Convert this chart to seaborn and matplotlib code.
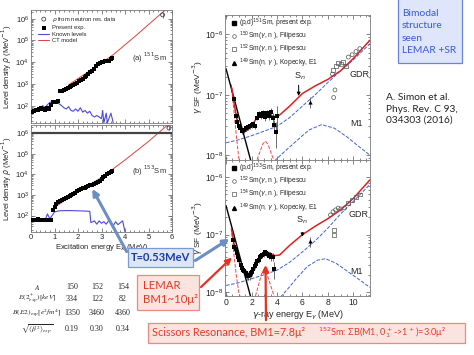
import matplotlib
matplotlib.use("Agg")
import matplotlib.pyplot as plt
import seaborn as sns
from matplotlib.lines import Line2D
from matplotlib.patches import Rectangle

# ---------------- level density data (left panels) ----------------
ex_151 = [0.05, 0.12, 0.2, 0.28, 0.36, 0.44, 0.52, 0.6, 0.68, 0.76, 0.84, 0.92, 1.0, 1.08, 1.16,
          1.24, 1.32, 1.4, 1.48, 1.56, 1.64, 1.72, 1.8, 1.88, 1.96, 2.04, 2.12, 2.2, 2.28, 2.36,
          2.44, 2.52, 2.6, 2.68, 2.76, 2.84, 2.92, 3.0, 3.08, 3.16, 3.24, 3.32, 3.4, 3.46]
rho_151 = [50, 55, 60, 62, 70, 75, 70, 65, 80, 70, 110, 140, 150, 150, 160,
           450, 480, 520, 560, 620, 700, 780, 900, 1000, 1150, 1300, 1500, 1700, 2000, 2400,
           2900, 3400, 4000, 5000, 6500, 8500, 9500, 1.0e4, 1.05e4, 1.1e4, 1.15e4, 1.1e4, 1.4e4, 1.6e4]
ex_153 = ex_151
rho_153 = [60, 62, 60, 65, 60, 62, 58, 60, 62, 60, 60, 180, 250, 350, 450,
           500, 560, 640, 720, 800, 900, 1000, 1150, 1300, 1500, 1700, 1900, 2100, 2300, 2500,
           2700, 2900, 3000, 3300, 3700, 4200, 5000, 6000, 7200, 8500, 1.0e4, 1.2e4, 1.35e4, 1.5e4]

known_ex_151 = [0.0, 0.03, 0.1, 0.2, 0.3, 0.4, 0.5, 0.6, 0.7, 0.8, 0.9, 1.0, 1.1, 1.2, 1.3, 1.4, 1.5,
                1.6, 1.7, 1.8, 1.9, 2.0, 2.1, 2.2, 2.3, 2.4, 2.5, 2.6, 2.7, 2.8, 2.9, 3.0, 3.05,
                3.1, 3.2, 3.25, 3.4, 3.5]
known_rho_151 = [16, 60, 50, 55, 70, 75, 100, 80, 110, 140, 150, 150, 140, 120, 100, 80, 70,
                 90, 60, 55, 70, 55, 80, 50, 60, 45, 55, 35, 30, 35, 30, 25, 60,
                 16, 45, 16, 45, 16]
known_ex_153 = [0.0, 0.02, 0.1, 0.2, 0.3, 0.4, 0.5, 0.6, 0.7, 0.8, 0.9, 1.0, 1.2, 1.5, 2.0, 2.3,
                2.5, 2.55, 2.7, 2.8, 2.9, 3.0, 3.1, 3.2, 3.3, 3.5, 3.6, 3.7, 3.9, 4.0]
known_rho_153 = [16, 60, 55, 60, 65, 55, 70, 60, 120, 70, 100, 150, 170, 175, 170, 165,
                 160, 45, 55, 38, 55, 42, 50, 38, 55, 32, 50, 36, 55, 16]

ct_ex_151 = [1.6, 2.5, 3.5, 4.5, 5.5, 6.3]
ct_rho_151 = [900, 4.0e3, 2.2e4, 1.8e5, 1.6e6, 8.0e6]
ct_ex_153 = [1.0, 2.0, 3.0, 4.0, 5.0, 6.2]
ct_rho_153 = [250, 1.5e3, 7.0e3, 5.0e4, 4.0e5, 6.0e6]

nres_ex = [5.6, 5.87]
nres_rho = [1.5e6, 1.8e6]

# ---------------- gamma strength data (right panels) ----------------
eg_151 = [0.65, 0.8, 0.9, 1.0, 1.1, 1.25, 1.4, 1.55, 1.7, 1.85, 2.0, 2.15, 2.3, 2.45, 2.6,
          2.75, 2.9, 3.05, 3.2, 3.35, 3.5, 3.65, 3.8, 3.9, 4.0]
sf_151 = [8.5e-8, 4.5e-8, 3.5e-8, 3.0e-8, 2.8e-8, 2.5e-8, 2.6e-8, 2.8e-8, 2.9e-8, 3.0e-8, 3.1e-8,
          3.3e-8, 3.0e-8, 4.2e-8, 4.8e-8, 4.5e-8, 5.0e-8, 4.3e-8, 4.9e-8, 4.4e-8, 5.2e-8, 4.2e-8,
          3.2e-8, 2.4e-8, 4.5e-8]
err_151 = [1.0e-8, 5e-9, 4e-9, 3e-9, 3e-9, 3e-9, 3e-9, 3e-9, 3e-9, 3e-9, 3e-9, 3e-9, 3e-9, 4e-9,
           5e-9, 5e-9, 6e-9, 6e-9, 6e-9, 6e-9, 8e-9, 8e-9, 6e-9, 1.1e-8, 2.0e-8]

eg_153 = [0.55, 0.65, 0.75, 0.85, 0.95, 1.05, 1.15, 1.25, 1.35, 1.45, 1.55, 1.65, 1.75, 1.85,
          1.95, 2.05, 2.15, 2.25, 2.35, 2.45, 2.55, 2.65, 2.75, 2.85, 2.95, 3.05, 3.15, 3.25,
          3.35, 3.45, 3.55, 3.65, 3.8]
sf_153 = [8e-8, 6e-8, 5.5e-8, 4.8e-8, 4e-8, 3.6e-8, 3.0e-8, 2.6e-8, 2.4e-8, 2.3e-8, 2.1e-8,
          2.0e-8, 1.9e-8, 1.95e-8, 2.1e-8, 2.2e-8, 2.5e-8, 2.8e-8, 3.1e-8, 3.4e-8, 3.6e-8,
          4.0e-8, 4.3e-8, 4.4e-8, 4.6e-8, 4.9e-8, 4.7e-8, 4.5e-8, 4.3e-8, 4.4e-8, 4.0e-8,
          4.1e-8, 2.5e-8]
err_153 = [1.2e-8, 8e-9, 6e-9, 5e-9, 4e-9, 4e-9, 3e-9, 3e-9, 3e-9, 3e-9, 3e-9, 3e-9, 3e-9, 3e-9,
           3e-9, 3e-9, 3e-9, 3e-9, 3e-9, 4e-9, 4e-9, 4e-9, 4e-9, 5e-9, 5e-9, 5e-9, 5e-9, 5e-9,
           5e-9, 5e-9, 5e-9, 6e-9, 8e-9]

kop_eg = [6.6]
kop_top = [7.6e-8]
kop_bot = [7.6e-8]
kop_err = [1.5e-8]

fil_a_eg_top = [8.35, 8.45, 8.55, 9.6, 9.9, 10.2, 10.5]
fil_a_sf_top = [2.2e-7, 9e-8, 1.2e-7, 4.2e-7, 4.6e-7, 5.2e-7, 5.8e-7]
fil_b_eg_top = [8.4, 8.6, 8.8, 9.0, 9.2, 9.4]
fil_b_sf_top = [2.6e-7, 3.0e-7, 3.3e-7, 3.2e-7, 3.5e-7, 3.0e-7]
fil_a_eg_bot = [8.2, 8.4, 8.6, 8.8, 9.0, 9.3]
fil_a_sf_bot = [2.2e-7, 2.5e-7, 2.7e-7, 2.9e-7, 2.8e-7, 2.9e-7]
fil_b_eg_bot = [8.45, 8.5, 9.6, 9.9, 10.2, 10.5]
fil_b_sf_bot = [1.0e-7, 1.2e-7, 3.5e-7, 4.0e-7, 4.5e-7, 5.0e-7]

# model curves
tot_eg_top = [0.45, 0.6, 0.8, 1.0, 1.2, 1.4, 1.7, 2.0, 2.3, 2.6, 2.9, 3.2, 3.5, 3.8, 4.2, 5.0,
              6.0, 7.0, 8.0, 9.0, 10.0, 11.3]
tot_sf_top = [1.3e-7, 8e-8, 4.5e-8, 3e-8, 2.5e-8, 2.4e-8, 2.6e-8, 3e-8, 3.8e-8, 4.6e-8, 4.8e-8,
              4.7e-8, 4.5e-8, 4.4e-8, 4.6e-8, 6.5e-8, 1.05e-7, 1.4e-7, 1.8e-7, 2.5e-7, 4e-7, 8e-7]
tot_eg_bot = [0.45, 0.6, 0.8, 1.0, 1.2, 1.4, 1.6, 1.8, 2.0, 2.3, 2.6, 2.9, 3.2, 3.5, 3.8, 4.2,
              5.0, 6.0, 7.0, 8.0, 9.0, 10.0, 11.3]
tot_sf_bot = [1.2e-7, 7.5e-8, 5e-8, 3.5e-8, 2.7e-8, 2.2e-8, 2.0e-8, 2.0e-8, 2.2e-8, 3e-8, 4e-8,
              4.8e-8, 5e-8, 4.7e-8, 4.3e-8, 4.4e-8, 6.5e-8, 1.0e-7, 1.4e-7, 1.9e-7, 2.7e-7,
              4.3e-7, 9e-7]
gdr_eg = [0, 1, 2, 3, 4, 5, 6, 7, 8, 9, 10, 11.3]
gdr_top = [1.6e-8, 1.8e-8, 2.1e-8, 2.5e-8, 3.0e-8, 4.2e-8, 6.5e-8, 1.0e-7, 1.6e-7, 2.5e-7, 3.8e-7, 7e-7]
gdr_bot = [1.3e-8, 1.45e-8, 1.7e-8, 2.0e-8, 2.4e-8, 3.3e-8, 5e-8, 7.8e-8, 1.3e-7, 2.3e-7, 3.8e-7, 7.5e-7]
m1_eg_top = [3.5, 4.5, 5.5, 6.5, 7.5, 8.5, 9.5, 10.5, 11.3]
m1_top = [7e-9, 1.1e-8, 1.7e-8, 2.6e-8, 3.2e-8, 2.8e-8, 2.0e-8, 1.35e-8, 1e-8]
m1_eg_bot = [4.0, 4.8, 5.6, 6.4, 7.2, 7.8, 8.6, 9.4, 10.2, 11.3]
m1_bot = [7e-9, 1.1e-8, 1.8e-8, 2.8e-8, 3.6e-8, 3.8e-8, 3.2e-8, 2.4e-8, 1.8e-8, 1.2e-8]
sr_eg_top = [2.3, 2.6, 2.9, 3.1, 3.3, 3.6, 3.9]
sr_top = [7e-9, 1.05e-8, 1.55e-8, 1.7e-8, 1.5e-8, 1.0e-8, 7e-9]
sr_eg_bot = [2.2, 2.5, 2.8, 3.0, 3.2, 3.5, 3.9]
sr_bot = [7e-9, 1.2e-8, 2.1e-8, 2.5e-8, 2.1e-8, 1.3e-8, 7e-9]
up_eg = [0.4, 0.6, 0.8, 1.0, 1.2]
up_top = [1.5e-7, 6e-8, 2.2e-8, 9e-9, 6e-9]
up_bot = [1.3e-7, 5e-8, 2e-8, 1e-8, 7e-9]
exp_eg = [0.0, 1.95]
exp_top = [2.7e-7, 8.0e-9]
exp_bot = [3.2e-7, 8.0e-9]

# table
tab_rows = ["$A$", "$E(2^+_{exp})[keV]$", "$B(E2)_{exp}[e^2fm^4]$", r"$\sqrt{\langle\beta^2\rangle_{exp}}$"]
tab_vals = [["150", "152", "154"], ["334", "122", "82"], ["1350", "3460", "4360"], ["0.19", "0.30", "0.34"]]

W, H = 474, 355
sns.set_theme(style="ticks")
plt.rcParams["font.family"] = ["Liberation Sans", "DejaVu Sans"]
plt.rcParams["mathtext.fontset"] = "dejavusans"

fig = plt.figure(figsize=(W / 100, H / 100), dpi=100)
fig.patch.set_facecolor("white")


def box(x0, y0, x1, y1):
    return [x0 / W, 1 - y1 / H, (x1 - x0) / W, (y1 - y0) / H]


def style_ax(ax, fs):
    ax.tick_params(which="both", direction="in", top=True, right=True, labelsize=fs, pad=1.5,
                   width=0.5, color="#555555")
    ax.tick_params(which="major", length=3)
    ax.tick_params(which="minor", length=1.5)
    for s in ax.spines.values():
        s.set_linewidth(0.6)
        s.set_color("#777777")


# ---- left panels
ax_a = fig.add_axes(box(31, 10, 172, 123))
ax_b = fig.add_axes(box(31, 125, 172, 232))
for ax, ex, rho, kex, krho, cex, crho, lab, k in [
        (ax_a, ex_151, rho_151, known_ex_151, known_rho_151, ct_ex_151, ct_rho_151, "(a) $^{151}$Sm", 0),
        (ax_b, ex_153, rho_153, known_ex_153, known_rho_153, ct_ex_153, ct_rho_153, "(b) $^{153}$Sm", 1)]:
    ax.set_yscale("log")
    sns.lineplot(x=kex, y=krho, ax=ax, color="#4a4adf", lw=0.8, estimator=None, sort=False,
                 label="Known levels")
    sns.lineplot(x=cex, y=crho, ax=ax, color="#e04040", lw=0.7, estimator=None, label="CT model")
    sns.scatterplot(x=ex, y=rho, ax=ax, marker="s", s=5, color="black", linewidth=0, zorder=3,
                    label="Present exp.")
    sns.scatterplot(x=[nres_ex[k]], y=[nres_rho[k]], ax=ax, marker="o", s=8, facecolors="none",
                    edgecolor="#444444", linewidth=0.6, zorder=3, label=r"$\rho$ from neutron res. data")
    ax.errorbar([nres_ex[k]], [nres_rho[k]], yerr=[[0.4e6], [0.4e6]], fmt="none", ecolor="#444444",
                elinewidth=0.5)
    ax.set_xlim(0, 6)
    ax.set_ylim(10 ** 1.2, 10 ** 6.4)
    ax.set_xticks(range(7))
    ax.minorticks_on()
    ax.set_ylabel(r"Level density $\rho$ (MeV$^{-1}$)", fontsize=5.5, labelpad=1)
    ax.text(4.3, 1.1e4, lab, fontsize=5.5, color="#333333")
    style_ax(ax, 5.5)
    ax.legend_.remove()

h, l = ax_a.get_legend_handles_labels()
order = [3, 2, 0, 1]
ax_a.legend([h[i] for i in order], [l[i] for i in order], loc="upper left", bbox_to_anchor=(0.02, 1.0),
            fontsize=4.2, frameon=False, handlelength=1.8, labelspacing=0.25, borderpad=0.3,
            handletextpad=0.6)
ax_a.tick_params(labelbottom=False)
ax_b.axhline(1e6, color="#444444", lw=1.6)
ax_b.set_xlabel("Excitation energy E$_x$ (MeV)", fontsize=5.5, labelpad=1)

# ---- right panels
ax_c = fig.add_axes(box(225, 15, 370, 160))
ax_d = fig.add_axes(box(225, 160, 370, 296))
panels = [
    (ax_c, eg_151, sf_151, err_151, tot_eg_top, tot_sf_top, gdr_top, m1_eg_top, m1_top, sr_eg_top,
     sr_top, up_top, exp_top, kop_top, fil_a_eg_top, fil_a_sf_top, fil_b_eg_top, fil_b_sf_top,
     ["(p,d)$^{151}$Sm, present exp.", "$^{150}$Sm($\\gamma$, n ), Filipescu",
      "$^{152}$Sm($\\gamma$, n ), Filipescu", "$^{149}$Sm(n, $\\gamma$ ), Kopecky, E1"],
     (10 ** -8.08, 10 ** -5.68), 5.7, (5.3, 2.05e-7), (1.6e-7, 8.6e-8), (9.7, 2.2e-7), (9.75, 3.4e-8)),
    (ax_d, eg_153, sf_153, err_153, tot_eg_bot, tot_sf_bot, gdr_bot, m1_eg_bot, m1_bot, sr_eg_bot,
     sr_bot, up_bot, exp_bot, kop_bot, fil_a_eg_bot, fil_a_sf_bot, fil_b_eg_bot, fil_b_sf_bot,
     ["(p,d)$^{153}$Sm, present exp.", "$^{152}$Sm($\\gamma$, n ), Filipescu",
      "$^{154}$Sm($\\gamma$, n ), Filipescu", "$^{149}$Sm(n, $\\gamma$ ), Kopecky, E1"],
     (10 ** -8.07, 10 ** -5.7), 6.0, (5.5, 1.75e-7), (1.22e-7, 8.2e-8), (9.6, 2.25e-7), (9.75, 2.3e-8)),
]
for (ax, eg, sf, er, teg, tsf, gdr, m1e, m1, sre, sr, up, expo, kop, fae, fas, fbe, fbs, labs,
     ylim, sn_x, sn_txt, sn_arr, gdr_txt, m1_txt) in panels:
    ax.set_yscale("log")
    sns.lineplot(x=gdr_eg, y=gdr, ax=ax, color="#4060d8", lw=0.7, ls="--", estimator=None)
    sns.lineplot(x=m1e, y=m1, ax=ax, color="#4060d8", lw=0.7, ls="--", estimator=None)
    sns.lineplot(x=sre, y=sr, ax=ax, color="#f04848", lw=0.7, ls="--", estimator=None)
    sns.lineplot(x=up_eg, y=up, ax=ax, color="#f04848", lw=0.7, ls="--", estimator=None)
    sns.lineplot(x=exp_eg, y=expo, ax=ax, color="black", lw=1.0, estimator=None)
    sns.lineplot(x=teg, y=tsf, ax=ax, color="#e02020", lw=1.1, estimator=None)
    ax.errorbar(eg, sf, yerr=er, fmt="none", ecolor="#333333", elinewidth=0.5)
    sns.scatterplot(x=eg, y=sf, ax=ax, marker="s", s=5, color="black", linewidth=0, zorder=3)
    ax.errorbar(kop_eg, kop, yerr=kop_err, fmt="none", ecolor="#333333", elinewidth=0.5)
    sns.scatterplot(x=kop_eg, y=kop, ax=ax, marker="^", s=9, color="black", linewidth=0, zorder=3)
    sns.scatterplot(x=fae, y=fas, ax=ax, marker="o", s=8, facecolors="none", edgecolor="#555555",
                    linewidth=0.5, zorder=3)
    sns.scatterplot(x=fbe, y=fbs, ax=ax, marker="s", s=8, facecolors="none", edgecolor="#555555",
                    linewidth=0.5, zorder=3)
    ax.set_xlim(-0.08, 11.3)
    ax.set_ylim(*ylim)
    ax.set_xticks([0, 2, 4, 6, 8, 10])
    ax.minorticks_on()
    ax.set_ylabel(r"$\gamma$ SF (MeV$^{-3}$)", fontsize=6, labelpad=0)
    style_ax(ax, 6.2)
    handles = [Line2D([], [], marker="s", ls="none", color="black", ms=2.2),
               Line2D([], [], marker="o", ls="none", mfc="none", mec="#555555", ms=2.6, mew=0.5),
               Line2D([], [], marker="s", ls="none", mfc="none", mec="#555555", ms=2.6, mew=0.5),
               Line2D([], [], marker="^", ls="none", color="black", ms=2.8)]
    ax.legend(handles, labs, loc="upper left", bbox_to_anchor=(0.04, 1.0), fontsize=4.8,
              frameon=False, handlelength=0.7, labelspacing=0.0, borderpad=0.05, handletextpad=0.4,
              borderaxespad=0.15)
    ax.text(sn_txt[0], sn_txt[1], "S$_n$", fontsize=6.5, va="center")
    ax.annotate("", xy=(sn_x, sn_arr[1]), xytext=(sn_x, sn_arr[0]),
                arrowprops=dict(arrowstyle="-|>", color="black", lw=0.7, mutation_scale=5))
    ax.text(gdr_txt[0], gdr_txt[1], "GDR", fontsize=6.5, va="center")
    ax.text(m1_txt[0], m1_txt[1], "M1", fontsize=6.5, va="center")

ax_c.tick_params(labelbottom=False)
ax_d.set_xlabel(r"$\gamma$-ray energy E$_{\gamma}$ (MeV)", fontsize=6.5, labelpad=1)

# ---- slide overlay (boxes, notes, table, arrows)
ov = fig.add_axes([0, 0, 1, 1])
ov.set_xlim(0, W)
ov.set_ylim(H, 0)
ov.axis("off")
slide = ["Lato", "DejaVu Sans"]

ov.add_patch(Rectangle((398, -2), 64, 65, fc="#dfe5fa", ec="#6a84d8", lw=0.9))
ov.text(402, 32, "Bimodal\nstructure\nseen\nLEMAR +SR", color="#3b5bd6", fontsize=7.4, va="center",
        ha="left", linespacing=1.45, family=slide)
ov.text(386, 109, "A. Simon et al.\nPhys. Rev. C 93,\n034303 (2016)", color="#222222", fontsize=7.3,
        va="center", ha="left", linespacing=1.35, family=slide)

ov.add_patch(Rectangle((128, 248), 65, 19, fc="#dce6f7", ec="#7a9ad4", lw=0.9))
ov.text(160.5, 257.5, "T=0.53MeV", color="#1d3aa0", fontsize=8, fontweight="bold", ha="center",
        va="center", family=slide)

ov.add_patch(Rectangle((137, 275), 62, 35, fc="#fbe4e0", ec="#ea8a80", lw=0.9))
ov.text(143, 292.5, "LEMAR\nBM1~10\u03bc\u00b2", color="#e33a25", fontsize=8.2, ha="left", va="center",
        linespacing=1.3, family=slide)

ov.add_patch(Rectangle((148, 323), 317, 20, fc="#fbe4e0", ec="#ea8a80", lw=0.9))
ov.text(152, 333, "Scissors Resonance, BM1=7.8\u03bc\u00b2", color="#e33a25", fontsize=7.8,
        ha="left", va="center", family=slide)
ov.text(318, 333, "$^{152}$Sm: \u03a3B(M1, 0$^+_1$->1$^+$)=3.0\u03bc\u00b2", color="#e33a25", fontsize=6.6,
        ha="left", va="center", family=slide)

arrow_blue = dict(arrowstyle="-|>", color="#6b8fc2", lw=2.2, mutation_scale=9)
arrow_red = dict(arrowstyle="-|>", color="#e8321f", lw=1.6, mutation_scale=9)
ov.annotate("", xy=(2.55, 2.6e3), xycoords=ax_b.transData, xytext=(128, 254), textcoords="data",
            arrowprops=arrow_blue)
ov.annotate("", xy=(0.45, 9e-8), xycoords=ax_d.transData, xytext=(193, 262), textcoords="data",
            arrowprops=arrow_blue)
ov.annotate("", xy=(0.62, 4.3e-8), xycoords=ax_d.transData, xytext=(199, 289), textcoords="data",
            arrowprops=arrow_red)
ov.annotate("", xy=(3.1, 3.3e-8), xycoords=ax_d.transData, xytext=(266, 323), textcoords="data",
            arrowprops=arrow_red)

# table
row_y = [287, 299, 313, 329]
col_x = [72, 97, 123]
for yy, name, vals in zip(row_y, tab_rows, tab_vals):
    ov.text(37, yy, name, fontsize=5.4, ha="center", va="center", family=["Liberation Serif"],
            math_fontfamily="stix")
    for xx, v in zip(col_x, vals):
        ov.text(xx, yy, v, fontsize=5.8, ha="center", va="center", family=["Liberation Serif"])

fig.savefig("out.png", dpi=100)
